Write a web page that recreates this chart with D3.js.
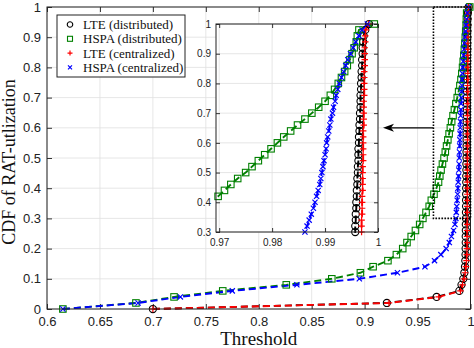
<!DOCTYPE html>
<html>
<head>
<meta charset="utf-8">
<script src="https://cdn.jsdelivr.net/npm/d3@7"></script>
<style>
  body { margin: 0; background: #fff; }
  svg { display: block; }
  .tick text { font-family: "Liberation Sans", Arial, sans-serif; fill: #222; }
  .serif { font-family: "Liberation Serif", "Times New Roman", serif; fill: #111; }
</style>
</head>
<body>
<div id="chart"></div>
<script>
const width = 474;
const height = 348;

// CDF levels (50 samples per series)
const cdfLevels = [0, 0.02, 0.04, 0.06, 0.08, 0.10, 0.12, 0.14, 0.16, 0.18,
  0.20, 0.22, 0.24, 0.26, 0.28, 0.30, 0.32, 0.34, 0.36, 0.38,
  0.40, 0.42, 0.44, 0.46, 0.48, 0.50, 0.52, 0.54, 0.56, 0.58,
  0.60, 0.62, 0.64, 0.66, 0.68, 0.70, 0.72, 0.74, 0.76, 0.78,
  0.80, 0.82, 0.84, 0.86, 0.88, 0.90, 0.92, 0.94, 0.96, 0.98, 1.00];

const lteDist = [0.700, 0.921, 0.968, 0.9895, 0.9915, 0.9932, 0.9942, 0.9948, 0.9951, 0.9953,
  0.9954, 0.9955, 0.9955, 0.9956, 0.9956, 0.9957, 0.9957, 0.9958, 0.9958, 0.9959,
  0.9959, 0.9960, 0.9960, 0.9961, 0.9961, 0.9962, 0.9962, 0.9963, 0.9963, 0.9963,
  0.9964, 0.9964, 0.9965, 0.9965, 0.9966, 0.9966, 0.9967, 0.9967, 0.9967, 0.9968,
  0.9968, 0.9969, 0.9969, 0.9970, 0.9970, 0.9971, 0.9971, 0.9972, 0.9973, 0.9976, 0.9983];

const hspaDist = [0.615, 0.684, 0.720, 0.766, 0.826, 0.869, 0.896, 0.908, 0.922, 0.930,
  0.936, 0.940, 0.944, 0.948, 0.952, 0.955, 0.958, 0.961, 0.963, 0.9655,
  0.9678, 0.9698, 0.9710, 0.9722, 0.9735, 0.9750, 0.9762, 0.9774, 0.9786, 0.9798,
  0.9810, 0.9822, 0.9835, 0.9848, 0.9862, 0.9875, 0.9888, 0.9900, 0.9910, 0.9918,
  0.9925, 0.9931, 0.9937, 0.9942, 0.9947, 0.9951, 0.9955, 0.9959, 0.9961, 0.9964, 0.9993];

const lteCent = [0.700, 0.923, 0.970, 0.9905, 0.9925, 0.9940, 0.9950, 0.9957, 0.9962, 0.9965,
  0.9967, 0.9968, 0.9968, 0.9968, 0.9969, 0.9969, 0.9969, 0.9969, 0.9970, 0.9970,
  0.9970, 0.9970, 0.9971, 0.9971, 0.9971, 0.9971, 0.9971, 0.9972, 0.9972, 0.9972,
  0.9972, 0.9972, 0.9972, 0.9973, 0.9973, 0.9973, 0.9973, 0.9973, 0.9974, 0.9974,
  0.9974, 0.9974, 0.9974, 0.9975, 0.9975, 0.9975, 0.9975, 0.9976, 0.9976, 0.9977, 0.9982];

const hspaCent = [0.615, 0.686, 0.726, 0.775, 0.836, 0.895, 0.931, 0.957, 0.966, 0.972,
  0.977, 0.980, 0.982, 0.984, 0.9853, 0.9862, 0.9866, 0.9870, 0.9874, 0.9878,
  0.9881, 0.9884, 0.9887, 0.9890, 0.9892, 0.9894, 0.9896, 0.9898, 0.9900, 0.9902,
  0.9903, 0.9905, 0.9907, 0.9909, 0.9911, 0.9914, 0.9916, 0.9919, 0.9921, 0.9924,
  0.9927, 0.9931, 0.9935, 0.9939, 0.9943, 0.9948, 0.9953, 0.9958, 0.9964, 0.9970, 0.9980];

const seriesNames = ['LTE (distributed)', 'HSPA (distributed)', 'LTE (centralized)', 'HSPA (centralized)'];
const seriesValues = [lteDist, hspaDist, lteCent, hspaCent];
const seriesColors = ['#000000', '#008000', '#ff0000', '#0000ff'];
const seriesMarkers = ['circle', 'square', 'plus', 'cross'];

const xTicks = [0.6, 0.65, 0.7, 0.75, 0.8, 0.85, 0.9, 0.95, 1];
const yTicks = [0, 0.1, 0.2, 0.3, 0.4, 0.5, 0.6, 0.7, 0.8, 0.9, 1];
const insetXTicks = [0.97, 0.98, 0.99, 1];
const insetYTicks = [0.3, 0.4, 0.5, 0.6, 0.7, 0.8, 0.9, 1];
const zoomBox = { x0: 0.965, x1: 1, y0: 0.3, y1: 1 };

const series = seriesNames.map((name, k) => ({
  name: name,
  color: seriesColors[k],
  marker: seriesMarkers[k],
  points: seriesValues[k].map((v, i) => ({ t: v, c: cdfLevels[i] }))
}));

const x = d3.scaleLinear().domain([0.6, 1]).range([47, 470.5]);
const y = d3.scaleLinear().domain([0, 1]).range([309, 7]);
const ix = d3.scaleLinear().domain([0.9694, 1]).range([216, 378]);
const iy = d3.scaleLinear().domain([0.3, 1]).range([232, 24]);

const svg = d3.select('#chart')
  .append('svg')
    .attr('width', width)
    .attr('height', height);

let drawMarker = (sel, kind, color, s) => {
  if (kind === 'circle') {
    sel.append('circle').attr('r', s * 0.55)
      .attr('fill', 'none').attr('stroke', color).attr('stroke-width', 1.1);
  } else if (kind === 'square') {
    sel.append('rect').attr('x', -s / 2).attr('y', -s / 2).attr('width', s).attr('height', s)
      .attr('fill', 'none').attr('stroke', color).attr('stroke-width', 1.1);
  } else if (kind === 'plus') {
    sel.append('path').attr('d', `M${-s/2},0H${s/2}M0,${-s/2}V${s/2}`)
      .attr('stroke', color).attr('stroke-width', 1.2);
  } else {
    const h = s * 0.4;
    sel.append('path').attr('d', `M${-h},${-h}L${h},${h}M${-h},${h}L${h},${-h}`)
      .attr('stroke', color).attr('stroke-width', 1.2);
  }
};

let drawPanel = (g, xs, ys, xt, yt, opts) => {
  const [x0, x1] = xs.range();
  const [y0, y1] = ys.range();
  const id = opts.id;

  g.append('rect')
    .attr('x', x0).attr('y', y1).attr('width', x1 - x0).attr('height', y0 - y1)
    .attr('fill', '#fff');

  // grid
  g.append('g').selectAll('line').data(xt).join('line')
    .attr('x1', d => xs(d)).attr('x2', d => xs(d)).attr('y1', y0).attr('y2', y1)
    .attr('stroke', '#e0e0e0').attr('stroke-width', 0.8);
  g.append('g').selectAll('line').data(yt).join('line')
    .attr('y1', d => ys(d)).attr('y2', d => ys(d)).attr('x1', x0).attr('x2', x1)
    .attr('stroke', '#e0e0e0').attr('stroke-width', 0.8);

  // axes with inward ticks
  const fmt = d => String(d);
  g.append('g').attr('transform', `translate(0,${y0})`)
    .call(d3.axisBottom(xs).tickValues(xt).tickFormat(fmt).tickSizeInner(-opts.tick).tickSizeOuter(0).tickPadding(opts.padX))
    .call(a => a.selectAll('text').style('font-size', opts.font + 'px'));
  g.append('g').attr('transform', `translate(0,${y1})`)
    .call(d3.axisTop(xs).tickValues(xt).tickFormat('').tickSizeInner(-opts.tick).tickSizeOuter(0));
  g.append('g').attr('transform', `translate(${x0},0)`)
    .call(d3.axisLeft(ys).tickValues(yt).tickFormat(fmt).tickSizeInner(-opts.tick).tickSizeOuter(0).tickPadding(opts.padY))
    .call(a => a.selectAll('text').style('font-size', opts.font + 'px'));
  g.append('g').attr('transform', `translate(${x1},0)`)
    .call(d3.axisRight(ys).tickValues(yt).tickFormat('').tickSizeInner(-opts.tick).tickSizeOuter(0));
  g.selectAll('.domain').remove();
  g.selectAll('.tick line').attr('stroke', '#333');

  g.append('clipPath').attr('id', id)
    .append('rect').attr('x', x0).attr('y', y1 - 1).attr('width', x1 - x0).attr('height', y0 - y1 + 2);

  const line = d3.line().x(d => xs(d.t)).y(d => ys(d.c));
  const [dx0, dx1] = xs.domain();
  const [dy0, dy1] = ys.domain();

  series.forEach(s => {
    g.append('path')
      .datum(s.points)
      .attr('clip-path', `url(#${id})`)
      .attr('d', line)
      .attr('fill', 'none')
      .attr('stroke', s.color)
      .attr('stroke-width', 1.9)
      .attr('stroke-dasharray', '7,4');
  });
  series.forEach(s => {
    const pts = s.points.filter(p => p.t >= dx0 - 1e-9 && p.t <= dx1 + 1e-9 && p.c >= dy0 - 1e-9 && p.c <= dy1 + 1e-9);
    g.append('g').selectAll('g').data(pts).join('g')
      .attr('transform', p => `translate(${xs(p.t)},${ys(p.c)})`)
      .each(function() { drawMarker(d3.select(this), s.marker, s.color, opts.marker); });
  });

  // box
  g.append('rect')
    .attr('x', x0).attr('y', y1).attr('width', x1 - x0).attr('height', y0 - y1)
    .attr('fill', 'none').attr('stroke', '#222').attr('stroke-width', 1);
};

const main = svg.append('g');
drawPanel(main, x, y, xTicks, yTicks, { id: 'clip-main', tick: 5, padX: 8, padY: 6, font: 13, marker: 6.5 });

// zoom region and arrow
svg.append('rect')
  .attr('x', x(zoomBox.x0)).attr('y', y(zoomBox.y1))
  .attr('width', x(zoomBox.x1) - x(zoomBox.x0)).attr('height', y(zoomBox.y0) - y(zoomBox.y1))
  .attr('fill', 'none').attr('stroke', '#000').attr('stroke-width', 1.6)
  .attr('stroke-dasharray', '1.5,1.5');

const arrowY = y(0.6);
const tipX = ix.range()[1] + 5;
svg.append('line')
  .attr('x1', x(zoomBox.x0)).attr('x2', tipX + 8)
  .attr('y1', arrowY).attr('y2', arrowY)
  .attr('stroke', '#000').attr('stroke-width', 1.2);
svg.append('path')
  .attr('d', `M${tipX},${arrowY}L${tipX + 11},${arrowY - 4}L${tipX + 8},${arrowY}L${tipX + 11},${arrowY + 4}Z`)
  .attr('fill', '#000');

const inset = svg.append('g');
drawPanel(inset, ix, iy, insetXTicks, insetYTicks, { id: 'clip-inset', tick: 4, padX: 7, padY: 5, font: 10, marker: 6.5 });

// axis labels
svg.append('text')
  .attr('class', 'serif')
  .attr('x', (x.range()[0] + x.range()[1]) / 2)
  .attr('y', 345)
  .attr('text-anchor', 'middle')
  .style('font-size', '19px')
  .text('Threshold');
svg.append('text')
  .attr('class', 'serif')
  .attr('transform', `translate(15,${(y.range()[0] + y.range()[1]) / 2 + 4}) rotate(-90)`)
  .attr('text-anchor', 'middle')
  .style('font-size', '18px')
  .text('CDF of RAT-utlization');

// legend
const legend = svg.append('g').attr('transform', 'translate(57,15)');
legend.append('rect')
  .attr('width', 128).attr('height', 62)
  .attr('fill', '#fff').attr('stroke', '#222').attr('stroke-width', 1);
series.forEach((s, k) => {
  const row = legend.append('g').attr('transform', `translate(13,${9.5 + k * 14.3})`);
  drawMarker(row, s.marker, s.color, 5);
  row.append('text')
    .attr('class', 'serif')
    .attr('x', 13).attr('y', 4.5)
    .style('font-size', '13px')
    .text(s.name);
});
</script>
</body>
</html>
